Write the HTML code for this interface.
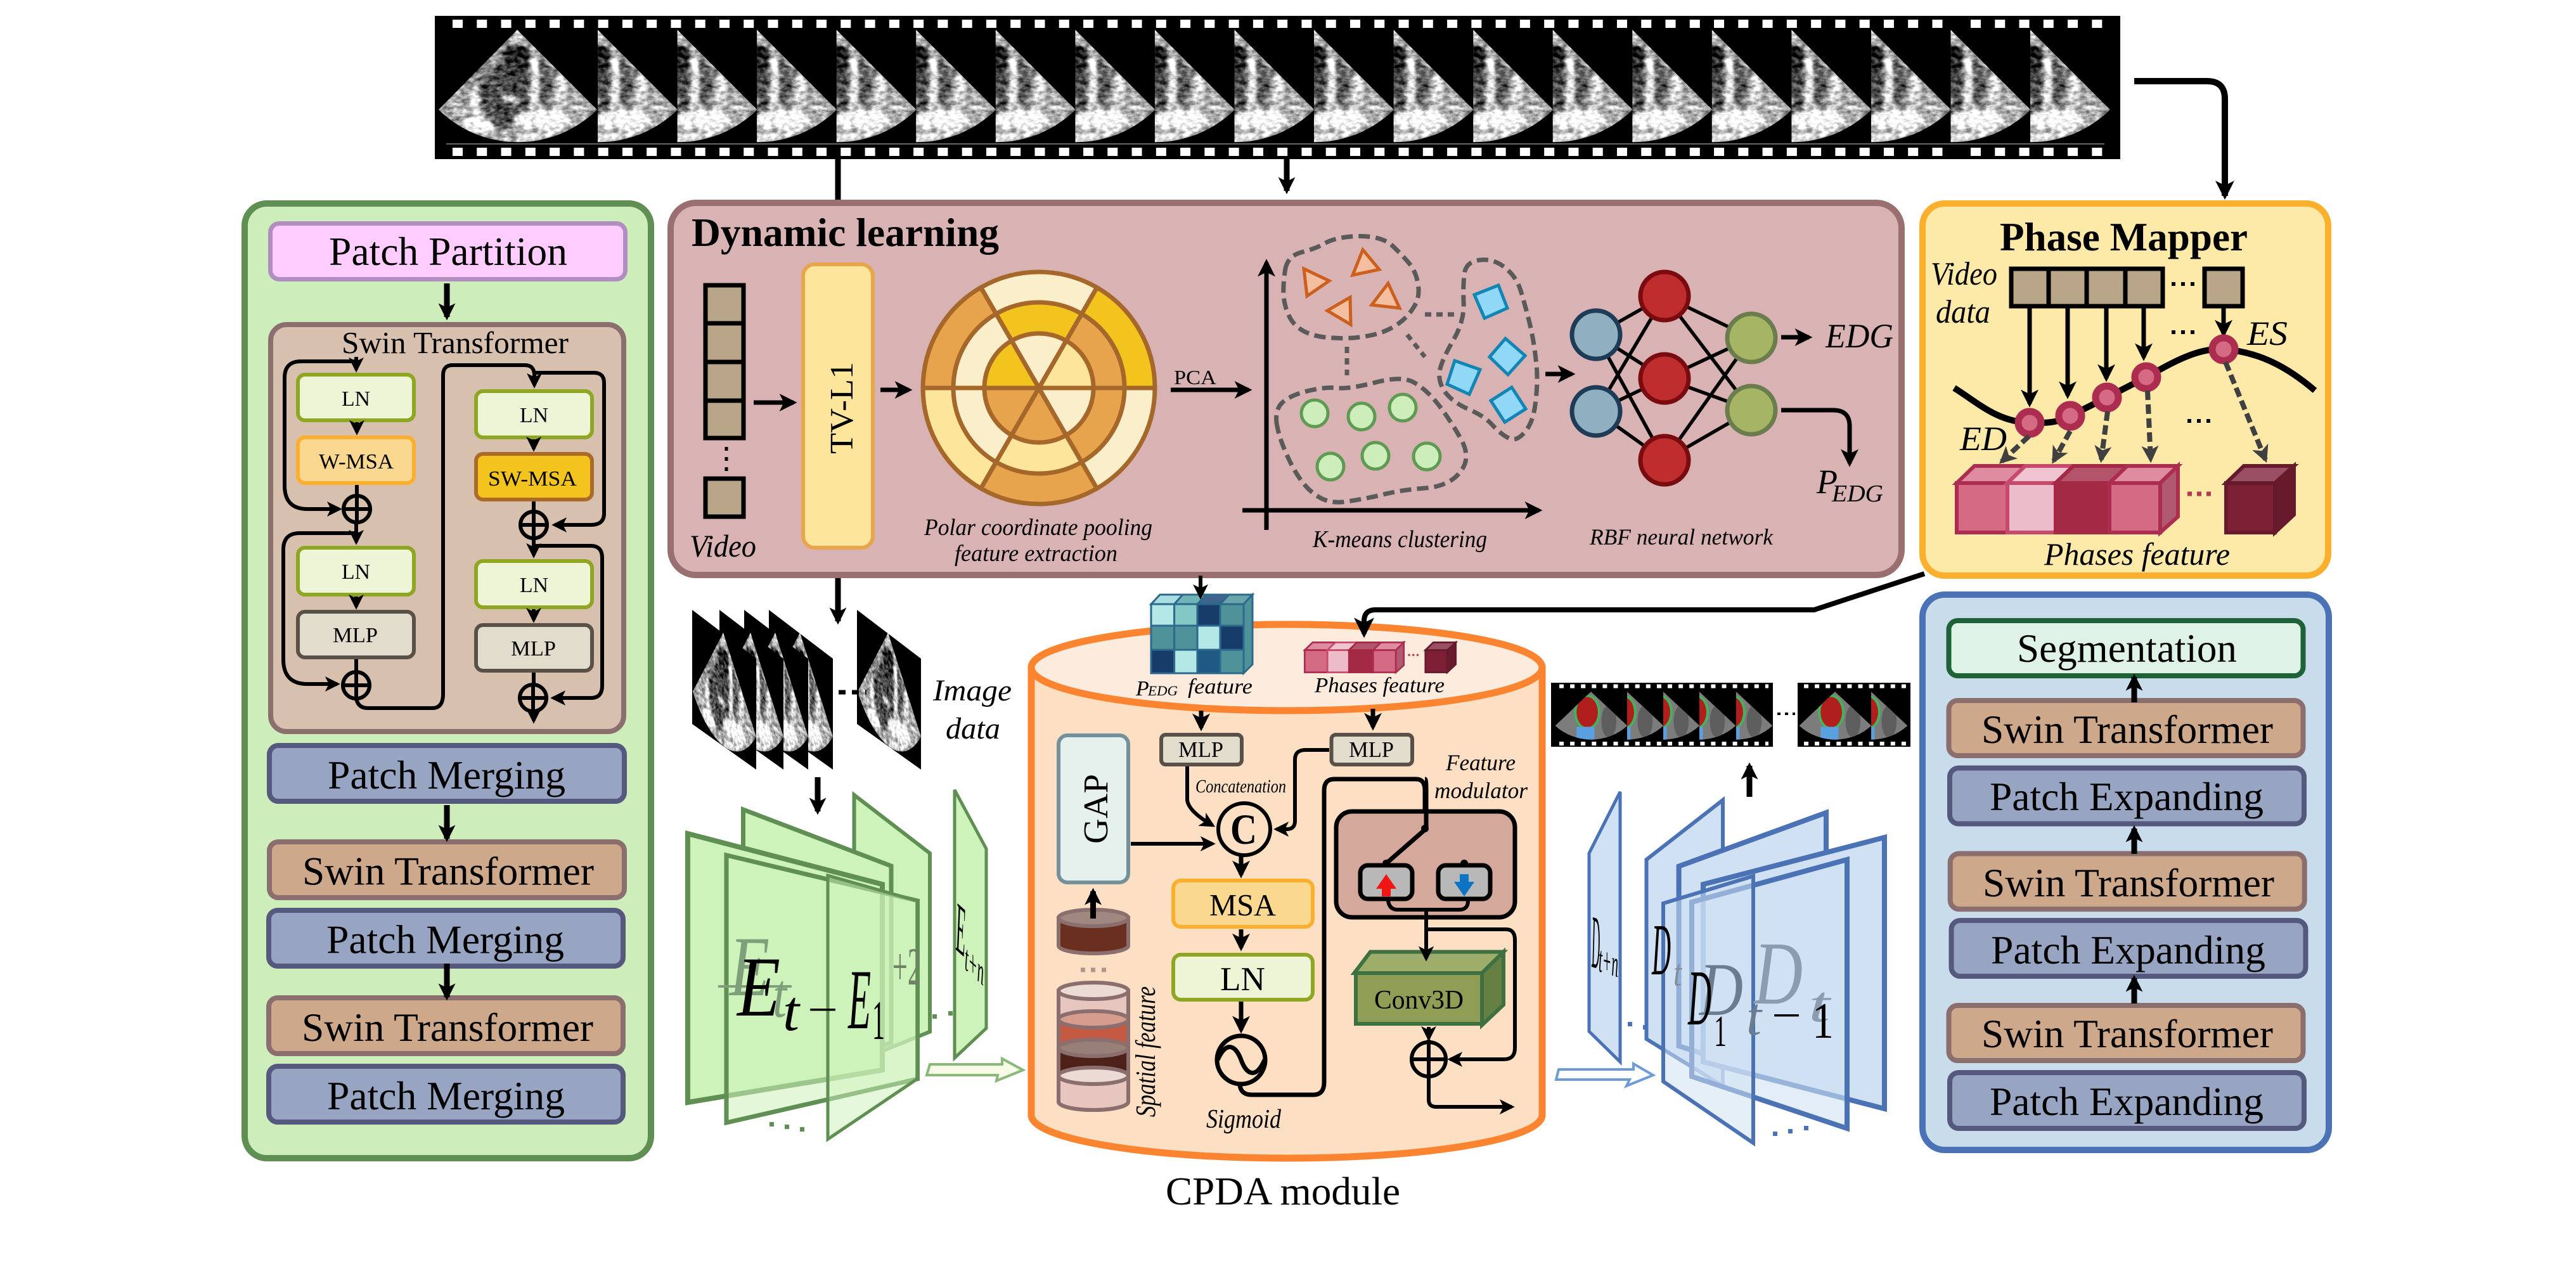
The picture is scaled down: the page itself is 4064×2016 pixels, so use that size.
<!DOCTYPE html>
<html lang="en"><head><meta charset="utf-8"><title>CPDA diagram</title>
<style>
html,body{margin:0;padding:0;background:#fff;width:4064px;height:2016px;overflow:hidden}
svg{display:block}
text{font-family:"Liberation Serif",serif;fill:#000}
.i{font-style:italic}.b{font-weight:bold}
.l{fill:none;stroke:#000;stroke-width:7}
.m{fill:none;stroke:#000;stroke-width:6}
.h{fill:none;stroke:#000;stroke-width:10}
.big{fill:none;stroke:#000;stroke-width:9}
.lb{fill:#eef4d6;stroke:#8ea622;stroke-width:6}
.ws{fill:#fbd88f;stroke:#fbb02d;stroke-width:6}
.mp{fill:#e2dccc;stroke:#595048;stroke-width:6}
.pm{fill:#97a4c2;stroke:#56597e;stroke-width:8}
.st{fill:#cda88a;stroke:#8b6e6e;stroke-width:8}
.cell{fill:#b9a588;stroke:#000;stroke-width:7}
.gp{fill:#cdf2ba;stroke:#5f8f53}
.bp{fill:#cfe1f2;stroke:#4a72b5}
.dash{fill:none;stroke:#5a5a5a;stroke-width:7;stroke-dasharray:18 9}
.tri{fill:#f4bfa0;stroke:#cc5f1e;stroke-width:5}
.dia{fill:#90d8f6;stroke:#1285b4;stroke-width:5}
.gc{fill:#cdeebb;stroke:#5f9a53;stroke-width:5}
.pi{fill:#d56a84;stroke:#ad2d50;stroke-width:11}
.da{fill:none;stroke:#404040;stroke-width:8;stroke-dasharray:15 7}
</style></head><body>
<svg xmlns="http://www.w3.org/2000/svg" width="4064" height="2016" viewBox="0 0 4064 2016">
<defs>
<marker id="a" viewBox="0 0 10 10" refX="8" refY="5" markerWidth="4" markerHeight="4" orient="auto"><path d="M0,0L10,5L0,10L2.5,5Z" fill="#000"/></marker>
<marker id="b" viewBox="0 0 10 10" refX="8" refY="5" markerWidth="3" markerHeight="3" orient="auto"><path d="M0,0L10,5L0,10L2.5,5Z" fill="#000"/></marker>
<marker id="c" viewBox="0 0 10 10" refX="8" refY="5" markerWidth="3.4" markerHeight="3.4" orient="auto"><path d="M0,0L10,5L0,10L2.5,5Z" fill="#404040"/></marker>
<clipPath id="fc"><path d="M0,0L126,126A178,178 0 0 1 -124,126Z"/></clipPath>
<clipPath id="cr"><rect x="0" y="-5" width="200" height="200"/></clipPath>
<filter id="nz" filterUnits="userSpaceOnUse" x="-140" y="-10" width="280" height="200" color-interpolation-filters="sRGB">
<feGaussianBlur in="SourceGraphic" stdDeviation="2.6" result="s"/>
<feTurbulence type="fractalNoise" baseFrequency=".09 .15" numOctaves="3" seed="4"/>
<feColorMatrix type="matrix" values="1 0 0 0 0 1 0 0 0 0 1 0 0 0 0 0 0 0 0 1" result="n"/>
<feComposite in="s" in2="n" operator="arithmetic" k1="0" k2="1" k3="1" k4="-.5"/>
</filter>
<g id="fan"><g clip-path="url(#fc)"><g filter="url(#nz)">
<rect x="-135" y="-5" width="270" height="195" fill="#a4a4a4"/>
<ellipse cx="-55" cy="85" rx="24" ry="40" fill="#8a8a8a"/>
<ellipse cx="-20" cy="105" rx="40" ry="50" fill="#4c4c4c"/>
<ellipse cx="-3" cy="75" rx="24" ry="34" fill="#484848"/>
<ellipse cx="-2" cy="40" rx="22" ry="17" fill="#1c1c1c"/>
<ellipse cx="2" cy="58" rx="17" ry="14" fill="#2c2c2c"/>
<ellipse cx="43" cy="86" rx="13" ry="34" fill="#575757"/>
<path d="M20,42L32,42L36,75L33,122L18,122L24,80Z" fill="#f2f2f2"/>
<ellipse cx="70" cy="100" rx="8" ry="34" fill="#e2e2e2"/>
<ellipse cx="-65" cy="122" rx="7" ry="36" fill="#f8f8f8"/>
<ellipse cx="-12" cy="108" rx="16" ry="6" fill="#ddd" transform="rotate(20 -12 108)"/>
<ellipse cx="38" cy="142" rx="44" ry="15" fill="#fff"/>
<ellipse cx="-62" cy="150" rx="24" ry="14" fill="#fff"/>
<path d="M0,165Q40,172 75,155" stroke="#fff" stroke-width="7" fill="none"/>
<path d="M-30,170Q0,176 30,172" stroke="#d8d8d8" stroke-width="5" fill="none"/>
<ellipse cx="3" cy="14" rx="6" ry="12" fill="#e0e0e0"/>
<ellipse cx="-95" cy="125" rx="14" ry="8" fill="#c4c4c4"/>
<ellipse cx="98" cy="125" rx="16" ry="10" fill="#b6b6b6"/>
</g></g></g>
<g id="sfan"><g clip-path="url(#fc)">
<path d="M0,0L126,126A178,178 0 0 1 -124,126Z" fill="#7c7c7c"/>
<ellipse cx="62" cy="110" rx="26" ry="60" fill="#5e5e5e"/>
<ellipse cx="-13" cy="76" rx="46" ry="65" fill="#43b35c"/>
<ellipse cx="-13" cy="76" rx="37" ry="56" fill="#b01e1e"/>
<rect x="-50" y="130" width="62" height="50" fill="#5a9fe0"/>
</g></g>
<g id="pc">
<rect x="3087" y="762" width="80" height="78" fill="#d56a84" stroke="#ad2d50" stroke-width="6"/>
<path d="M3087,762L3115,735H3195L3167,762Z" fill="#e08ca0" stroke="#ad2d50" stroke-width="6"/>
<rect x="3167" y="762" width="76" height="78" fill="#ecbccb" stroke="#c74a6c" stroke-width="6"/>
<path d="M3167,762L3195,735H3271L3243,762Z" fill="#f0c4d0" stroke="#c74a6c" stroke-width="6"/>
<rect x="3243" y="762" width="85" height="78" fill="#a32945" stroke="#a32945" stroke-width="6"/>
<path d="M3243,762L3271,735H3356L3328,762Z" fill="#b3546c" stroke="#a32945" stroke-width="6"/>
<rect x="3328" y="762" width="80" height="78" fill="#d56a84" stroke="#ad2d50" stroke-width="6"/>
<path d="M3328,762L3356,735H3436L3408,762Z" fill="#e08ca0" stroke="#ad2d50" stroke-width="6"/>
<path d="M3408,762L3436,735V815L3408,840Z" fill="#b05a72" stroke="#ad2d50" stroke-width="6"/>
<line x1="3451" x2="3489" y1="779" y2="779" stroke="#b23a55" stroke-width="7" stroke-dasharray="7 8"/>
<rect x="3512" y="762" width="77" height="78" fill="#7d1f35" stroke="#661a2c" stroke-width="6"/>
<path d="M3512,762L3540,735H3619L3589,762Z" fill="#9b4f64" stroke="#661a2c" stroke-width="6"/>
<path d="M3589,762L3619,735V812L3589,840Z" fill="#661a2c" stroke="#661a2c" stroke-width="6"/>
</g>
<g id="p"><circle r="21" fill="none" stroke="#000" stroke-width="6"/><path d="M-21,0H21M0,-24V24" stroke="#000" stroke-width="6"/></g>
<g id="im">
<path d="M1092,962L1193,1039V1214L1092,1142Z" fill="#000"/>
<use href="#fan" transform="matrix(.4,.284,.0127,1.017,1141,998)"/>
</g>
</defs>

<!-- film strip -->
<rect x="686" y="25" width="2659" height="226" fill="#000"/>
<path d="M714,37.5H3068M3109,37.5H3320M714,239.5H3068M3109,239.5H3320" stroke="#fff" stroke-width="13" stroke-dasharray="16 22.27" fill="none"/>
<line x1="704" x2="3320" y1="227" y2="227" stroke="#888" stroke-width="1.5"/>
<use href="#fan" transform="translate(816,47)"/>
<use href="#fan" transform="translate(943,47)" clip-path="url(#cr)"/>
<use href="#fan" transform="translate(1068.6,47)" clip-path="url(#cr)"/>
<use href="#fan" transform="translate(1194.1,47)" clip-path="url(#cr)"/>
<use href="#fan" transform="translate(1319.7,47)" clip-path="url(#cr)"/>
<use href="#fan" transform="translate(1445.2,47)" clip-path="url(#cr)"/>
<use href="#fan" transform="translate(1570.8,47)" clip-path="url(#cr)"/>
<use href="#fan" transform="translate(1696.4,47)" clip-path="url(#cr)"/>
<use href="#fan" transform="translate(1821.9,47)" clip-path="url(#cr)"/>
<use href="#fan" transform="translate(1947.5,47)" clip-path="url(#cr)"/>
<use href="#fan" transform="translate(2073,47)" clip-path="url(#cr)"/>
<use href="#fan" transform="translate(2198.6,47)" clip-path="url(#cr)"/>
<use href="#fan" transform="translate(2324.2,47)" clip-path="url(#cr)"/>
<use href="#fan" transform="translate(2449.7,47)" clip-path="url(#cr)"/>
<use href="#fan" transform="translate(2575.3,47)" clip-path="url(#cr)"/>
<use href="#fan" transform="translate(2700.8,47)" clip-path="url(#cr)"/>
<use href="#fan" transform="translate(2826.4,47)" clip-path="url(#cr)"/>
<use href="#fan" transform="translate(2952,47)" clip-path="url(#cr)"/>
<use href="#fan" transform="translate(3077.5,47)" clip-path="url(#cr)"/>
<use href="#fan" transform="translate(3203,47)" clip-path="url(#cr)"/>
<path class="h" d="M3367,128H3482Q3510,128 3510,156V309" marker-end="url(#b)"/>
<line class="big" x1="1322" y1="251" x2="1322" y2="320"/>
<line class="big" x1="2030" y1="251" x2="2030" y2="301" marker-end="url(#b)"/>

<!-- left panel -->
<rect x="386" y="321" width="641" height="1506" rx="35" fill="#cdeebb" stroke="#5f8f53" stroke-width="10"/>
<rect x="426.5" y="352.5" width="560" height="88" rx="14" fill="#ffccff" stroke="#b08fc0" stroke-width="7"/>
<text x="519" y="418" font-size="63" textLength="376" lengthAdjust="spacingAndGlyphs">Patch Partition</text>
<line class="big" x1="705" y1="447" x2="705" y2="500" marker-end="url(#b)"/>
<rect x="427" y="512" width="557" height="642" rx="25" fill="#d8c0ae" stroke="#8b6e6e" stroke-width="8"/>
<text x="539" y="557" font-size="49" textLength="358" lengthAdjust="spacingAndGlyphs">Swin Transformer</text>
<rect class="lb" x="470" y="591" width="183" height="72" rx="11"/>
<rect class="ws" x="470" y="690" width="183" height="72" rx="11"/>
<rect class="lb" x="470" y="864" width="183" height="74" rx="11"/>
<rect class="mp" x="470" y="965" width="183" height="72" rx="11"/>
<rect class="lb" x="751" y="617" width="183" height="73" rx="11"/>
<rect x="751" y="716" width="183" height="72" rx="11" fill="#f4c41e" stroke="#ab6a27" stroke-width="6"/>
<rect class="lb" x="751" y="885" width="183" height="73" rx="11"/>
<rect class="mp" x="751" y="986" width="183" height="72" rx="11"/>
<g font-size="34">
<text x="539" y="640" textLength="45" lengthAdjust="spacingAndGlyphs">LN</text>
<text x="503" y="739" textLength="118" lengthAdjust="spacingAndGlyphs">W-MSA</text>
<text x="539" y="913" textLength="45" lengthAdjust="spacingAndGlyphs">LN</text>
<text x="525" y="1013" textLength="71" lengthAdjust="spacingAndGlyphs">MLP</text>
<text x="820" y="666" textLength="45" lengthAdjust="spacingAndGlyphs">LN</text>
<text x="770" y="766" textLength="140" lengthAdjust="spacingAndGlyphs">SW-MSA</text>
<text x="820" y="934" textLength="45" lengthAdjust="spacingAndGlyphs">LN</text>
<text x="806" y="1034" textLength="71" lengthAdjust="spacingAndGlyphs">MLP</text>
</g>
<use href="#p" x="563" y="803"/><use href="#p" x="562" y="1081"/><use href="#p" x="842" y="828"/><use href="#p" x="841" y="1101"/>
<g class="m">
<path class="m" d="M562,570H475Q449,570 449,596V766Q449,803 485,803H535" marker-end="url(#a)"/>
<line class="m" x1="562" y1="563" x2="562" y2="583" marker-end="url(#a)"/>
<line class="m" x1="563" y1="666" x2="563" y2="682" marker-end="url(#a)"/>
<line class="m" x1="563" y1="765" x2="563" y2="782"/>
<line class="m" x1="562" y1="824" x2="562" y2="855" marker-end="url(#a)"/>
<path class="m" d="M562,841H473Q447,841 447,867V1040Q447,1079 485,1079H532" marker-end="url(#a)"/>
<line class="m" x1="562" y1="941" x2="562" y2="957" marker-end="url(#a)"/>
<line class="m" x1="562" y1="1040" x2="562" y2="1060"/>
<path class="m" d="M562,1102Q565,1117 580,1117H682Q699,1117 699,1095V592Q699,576 714,576H828Q843,576 843,592V608" marker-end="url(#a)"/>
<path class="m" d="M843,588H937Q953,588 953,604V810Q953,828 932,828H875" marker-end="url(#a)"/>
<line class="m" x1="842" y1="693" x2="842" y2="708" marker-end="url(#a)"/>
<line class="m" x1="842" y1="791" x2="842" y2="808"/>
<line class="m" x1="842" y1="850" x2="842" y2="876" marker-end="url(#a)"/>
<path class="m" d="M843,861H932Q950,861 950,880V1082Q950,1101 932,1101H873" marker-end="url(#a)"/>
<line class="m" x1="842" y1="961" x2="842" y2="978" marker-end="url(#a)"/>
<line class="m" x1="842" y1="1061" x2="842" y2="1080"/>
<line class="m" x1="842" y1="1122" x2="842" y2="1137" marker-end="url(#a)"/>
</g>
<rect class="pm" x="425" y="1176" width="560" height="88" rx="14"/>
<rect class="st" x="425" y="1328" width="560" height="88" rx="14"/>
<rect class="pm" x="424" y="1436" width="559" height="88" rx="14"/>
<rect class="st" x="424" y="1574" width="559" height="88" rx="14"/>
<rect class="pm" x="424" y="1682" width="559" height="88" rx="14"/>
<g font-size="63">
<text x="517" y="1244" textLength="375" lengthAdjust="spacingAndGlyphs">Patch Merging</text>
<text x="477" y="1395.5" textLength="460" lengthAdjust="spacingAndGlyphs">Swin Transformer</text>
<text x="515" y="1503.6" textLength="375" lengthAdjust="spacingAndGlyphs">Patch Merging</text>
<text x="476" y="1642" textLength="460" lengthAdjust="spacingAndGlyphs">Swin Transformer</text>
<text x="516" y="1750" textLength="375" lengthAdjust="spacingAndGlyphs">Patch Merging</text>
</g>
<line class="big" x1="705" y1="1270" x2="705" y2="1323" marker-end="url(#b)"/>
<line class="big" x1="705" y1="1520" x2="705" y2="1573" marker-end="url(#b)"/>

<!-- dynamic learning -->
<rect x="1058" y="320" width="1942" height="587" rx="40" fill="#d9b2b4" stroke="#996f70" stroke-width="10"/>
<text x="1091" y="388" font-size="64" class="b" textLength="485" lengthAdjust="spacingAndGlyphs">Dynamic learning</text>
<rect class="cell" x="1113" y="450" width="60" height="60"/>
<rect class="cell" x="1113" y="510" width="60" height="61"/>
<rect class="cell" x="1113" y="571" width="60" height="61"/>
<rect class="cell" x="1113" y="632" width="60" height="59"/>
<rect class="cell" x="1113" y="755" width="60" height="60"/>
<path d="M1146,705v6M1146,721v6M1146,737v6" stroke="#000" stroke-width="5"/>
<text x="1088" y="878" font-size="50" class="i" textLength="105" lengthAdjust="spacingAndGlyphs">Video</text>
<line class="l" x1="1189" y1="635" x2="1252" y2="635" marker-end="url(#a)"/>
<rect x="1267" y="417" width="110" height="447" rx="18" fill="#fde59b" stroke="#e8a64c" stroke-width="6"/>
<text transform="translate(1345,716) rotate(-90)" font-size="52" textLength="145" lengthAdjust="spacingAndGlyphs">TV-L1</text>
<line class="l" x1="1389" y1="615" x2="1434" y2="615" marker-end="url(#a)"/>
<!-- polar -->
<g stroke="#a5682a" stroke-width="7">
<path fill="#f4c41e" d="M1639,612L1822,612A183,183 0 0 0 1730.5,453.5Z"/>
<path fill="#fbeecb" d="M1639,612L1730.5,453.5A183,183 0 0 0 1547.5,453.5Z"/>
<path fill="#e8a44c" d="M1639,612L1547.5,453.5A183,183 0 0 0 1456,612Z"/>
<path fill="#fde59b" d="M1639,612L1456,612A183,183 0 0 0 1547.5,770.5Z"/>
<path fill="#e8a44c" d="M1639,612L1547.5,770.5A183,183 0 0 0 1730.5,770.5Z"/>
<path fill="#fbeecb" d="M1639,612L1730.5,770.5A183,183 0 0 0 1822,612Z"/>
<path fill="#e8a44c" d="M1639,612L1774,612A135,135 0 0 0 1706.5,495.1Z"/>
<path fill="#f4c41e" d="M1639,612L1706.5,495.1A135,135 0 0 0 1571.5,495.1Z"/>
<path fill="#fbeecb" d="M1639,612L1571.5,495.1A135,135 0 0 0 1504,612Z"/>
<path fill="#fbeecb" d="M1639,612L1504,612A135,135 0 0 0 1571.5,728.9Z"/>
<path fill="#fde59b" d="M1639,612L1571.5,728.9A135,135 0 0 0 1706.5,728.9Z"/>
<path fill="#e8a44c" d="M1639,612L1706.5,728.9A135,135 0 0 0 1774,612Z"/>
<path fill="#fde59b" d="M1639,612L1725,612A86,86 0 0 0 1682,537.5Z"/>
<path fill="#fbeecb" d="M1639,612L1682,537.5A86,86 0 0 0 1596,537.5Z"/>
<path fill="#f4c41e" d="M1639,612L1596,537.5A86,86 0 0 0 1553,612Z"/>
<path fill="#e8a44c" d="M1639,612L1553,612A86,86 0 0 0 1596,686.5Z"/>
<path fill="#e8a44c" d="M1639,612L1596,686.5A86,86 0 0 0 1682,686.5Z"/>
<path fill="#fbeecb" d="M1639,612L1682,686.5A86,86 0 0 0 1725,612Z"/>
</g>
<text x="1458" y="844" font-size="37" class="i" textLength="360" lengthAdjust="spacingAndGlyphs">Polar coordinate pooling</text>
<text x="1506" y="885" font-size="37" class="i" textLength="257" lengthAdjust="spacingAndGlyphs">feature extraction</text>
<text x="1852" y="606" font-size="32" textLength="67" lengthAdjust="spacingAndGlyphs">PCA</text>
<line class="l" x1="1847" y1="615" x2="1970" y2="615" marker-end="url(#a)"/>
<!-- kmeans -->
<line class="l" x1="1998" y1="836" x2="1998" y2="414" marker-end="url(#a)"/>
<line class="l" x1="1960" y1="805" x2="2428" y2="805" marker-end="url(#a)"/>
<path class="dash" d="M2027.5,426Q2031,404 2053,398Q2076,392 2088,385Q2101,377 2123,374Q2146,371 2165,374Q2185,377 2197,388Q2210,400 2222,414Q2234,428 2237,448Q2241,469 2230,485Q2220,502 2201,514Q2182,526 2157,530Q2132,535 2104,533Q2076,532 2058,523Q2041,514 2034,499Q2027,485 2025,467Q2024,449 2027.5,426Z"/>
<path class="dash" d="M2311,428Q2315,412 2336,410Q2357,408 2374,422Q2392,436 2399,458Q2406,481 2413,509Q2420,538 2423,567Q2427,596 2423,630Q2420,665 2406,681Q2392,698 2380,691Q2368,685 2355,671Q2343,657 2318,646Q2294,636 2281,620Q2269,604 2271,587Q2273,571 2292,538Q2311,506 2309,475Q2308,445 2311,428Z"/>
<path class="dash" d="M2015,673Q2010,649 2022,636Q2034,624 2062,617Q2090,610 2109,612Q2129,614 2171,603Q2213,592 2232,604Q2252,616 2269,638Q2287,661 2304,691Q2322,722 2304,744Q2287,767 2248,770Q2210,773 2182,780Q2154,787 2125,791Q2097,796 2076,781Q2055,767 2037,732Q2020,698 2015,673Z"/>
<path d="M2125,547V592M2248,496H2294M2220,528L2248,563" stroke="#5a5a5a" stroke-width="7" stroke-dasharray="10 8" fill="none"/>
<polygon class="tri" points="2057,424 2097,443 2062,467"/>
<polygon class="tri" points="2150,394 2176,425 2134,434"/>
<polygon class="tri" points="2190,447 2208,486 2164,481"/>
<polygon class="tri" points="2130,469 2131,512 2094,490"/>
<polygon class="dia" points="2364,450 2378,486 2342,502 2326,465"/>
<polygon class="dia" points="2375,534 2406,561 2379,591 2350,563"/>
<polygon class="dia" points="2295,569 2335,583 2318,622 2283,606"/>
<polygon class="dia" points="2385,611 2407,645 2374,666 2352,632"/>
<circle class="gc" cx="2074" cy="652" r="21"/><circle class="gc" cx="2148" cy="657" r="21"/><circle class="gc" cx="2213" cy="643" r="21"/>
<circle class="gc" cx="2099" cy="736" r="21"/><circle class="gc" cx="2170" cy="719" r="21"/><circle class="gc" cx="2251" cy="720" r="21"/>
<text x="2071" y="863" font-size="38" class="i" textLength="275" lengthAdjust="spacingAndGlyphs">K-means clustering</text>
<text x="2508" y="859" font-size="36" class="i" textLength="289" lengthAdjust="spacingAndGlyphs">RBF neural network</text>
<line class="l" x1="2438" y1="590" x2="2480" y2="590" marker-end="url(#a)"/>
<!-- RBF -->
<path d="M2518,528L2626,467M2518,528L2626,597M2518,528L2626,726M2518,649L2626,467M2518,649L2626,597M2518,649L2626,726M2626,467L2763,533M2626,467L2763,647M2626,597L2763,533M2626,597L2763,647M2626,726L2763,533M2626,726L2763,647" stroke="#000" stroke-width="5.5" fill="none"/>
<g stroke-width="7">
<circle cx="2518" cy="528" r="38" fill="#8fb0c0" stroke="#1e3c58"/>
<circle cx="2518" cy="649" r="38" fill="#8fb0c0" stroke="#1e3c58"/>
<circle cx="2626" cy="467" r="38" fill="#bf2d2f" stroke="#7a0c10"/>
<circle cx="2626" cy="597" r="38" fill="#bf2d2f" stroke="#7a0c10"/>
<circle cx="2626" cy="726" r="38" fill="#bf2d2f" stroke="#7a0c10"/>
<circle cx="2763" cy="533" r="38" fill="#a6b563" stroke="#6b7d4d"/>
<circle cx="2763" cy="647" r="38" fill="#a6b563" stroke="#6b7d4d"/>
</g>
<line class="l" x1="2810" y1="532" x2="2854" y2="532" marker-end="url(#a)"/>
<text x="2880" y="548" font-size="54" class="i" textLength="107" lengthAdjust="spacingAndGlyphs">EDG</text>
<path class="l" d="M2810,647H2892Q2918,647 2918,672V731" marker-end="url(#a)"/>
<text x="2866" y="778" font-size="54" class="i">P</text>
<text x="2890" y="791" font-size="38" class="i" textLength="81" lengthAdjust="spacingAndGlyphs">EDG</text>

<!-- phase mapper -->
<rect x="3033" y="321" width="640" height="587" rx="35" fill="#feeaa8" stroke="#fbb02d" stroke-width="10"/>
<text x="3155" y="395" font-size="63" class="b" textLength="391" lengthAdjust="spacingAndGlyphs">Phase Mapper</text>
<text x="3046" y="449" font-size="52" class="i" textLength="105" lengthAdjust="spacingAndGlyphs">Video</text>
<text x="3054" y="509" font-size="52" class="i" textLength="86" lengthAdjust="spacingAndGlyphs">data</text>
<rect class="cell" x="3173" y="424" width="59" height="59"/><rect class="cell" x="3232" y="424" width="60" height="59"/><rect class="cell" x="3292" y="424" width="61" height="59"/><rect class="cell" x="3353" y="424" width="59" height="59"/><rect class="cell" x="3478" y="424" width="60" height="59"/>
<path d="M3426,448H3462M3426,524H3462M3451,664H3489" stroke="#000" stroke-width="6" stroke-dasharray="6 9" fill="none"/>
<path d="M3083,612C3120,635 3150,665 3202,667C3235,668 3250,665 3266,656L3324,627L3386,595C3430,570 3470,548 3508,551C3565,555 3610,580 3652,616" fill="none" stroke="#000" stroke-width="10"/>
<g>
<line class="l" x1="3202" y1="483" x2="3202" y2="637" marker-end="url(#a)"/>
<line class="l" x1="3262" y1="483" x2="3262" y2="624" marker-end="url(#a)"/>
<line class="l" x1="3323" y1="483" x2="3323" y2="597" marker-end="url(#a)"/>
<line class="l" x1="3382" y1="483" x2="3382" y2="564" marker-end="url(#a)"/>
<line class="l" x1="3508" y1="483" x2="3508" y2="527" marker-end="url(#a)"/>
</g>
<circle class="pi" cx="3202" cy="667" r="18"/><circle class="pi" cx="3266" cy="656" r="18"/><circle class="pi" cx="3324" cy="627" r="18"/><circle class="pi" cx="3386" cy="595" r="18"/><circle class="pi" cx="3508" cy="551" r="18"/>
<use href="#pc"/>
<path class="da" d="M3201,688L3158,728" marker-end="url(#c)"/>
<path class="da" d="M3266,680L3240,727" marker-end="url(#c)"/>
<path class="da" d="M3325,649L3315,725" marker-end="url(#c)"/>
<path class="da" d="M3388,616L3393,725" marker-end="url(#c)"/>
<path class="da" d="M3511,571L3574,725" marker-end="url(#c)"/>
<text x="3225" y="891" font-size="50" class="i" textLength="293" lengthAdjust="spacingAndGlyphs">Phases feature</text>
<text x="3092" y="710" font-size="54" class="i" textLength="74" lengthAdjust="spacingAndGlyphs">ED</text>
<text x="3545" y="544" font-size="54" class="i" textLength="64" lengthAdjust="spacingAndGlyphs">ES</text>

<!-- image data stack -->
<use href="#im" x="121"/><use href="#im" x="82"/><use href="#im" x="43"/><use href="#im"/><use href="#im" x="260"/>
<line x1="1323" x2="1367" y1="1092" y2="1092" stroke="#000" stroke-width="7" stroke-dasharray="11 10"/>
<text x="1472" y="1105" font-size="48" class="i" textLength="124" lengthAdjust="spacingAndGlyphs">Image</text>
<text x="1492" y="1165" font-size="48" class="i" textLength="86" lengthAdjust="spacingAndGlyphs">data</text>
<line class="big" x1="1322" y1="912" x2="1322" y2="980" marker-end="url(#b)"/>
<line class="big" x1="1290" y1="1226" x2="1290" y2="1280" marker-end="url(#b)"/>

<!-- green planes -->
<polygon class="gp" stroke-width="5" points="1506,1246 1556,1339 1556,1622 1506,1669"/>
<polygon class="gp" stroke-width="6" points="1347.5,1254 1467,1346 1467,1627.5 1347.5,1676"/>
<polygon class="gp" stroke-width="7" points="1172.5,1277 1406,1366 1406,1645 1172.5,1722"/>
<polygon class="gp" stroke-width="8" points="1085,1315 1392,1395 1392,1688 1085,1739"/>
<polygon class="gp" stroke-width="7" fill-opacity=".55" points="1146,1349 1447.5,1421 1447.5,1702 1146,1771"/>
<polygon class="gp" stroke-width="5" fill-opacity=".5" points="1306,1381 1447,1421 1447,1702 1306,1797"/>
<line x1="1133" x2="1249" y1="1556" y2="1556" stroke="#7f9f7a" stroke-width="4"/>
<g class="i">
<text x="1151" y="1570" font-size="135" style="fill:#7f9f7a" textLength="63" lengthAdjust="spacingAndGlyphs">E</text>
<text x="1219" y="1604" font-size="100" style="fill:#7f9f7a" textLength="22" lengthAdjust="spacingAndGlyphs">t</text>
</g>
<text x="1408" y="1553" font-size="85" style="fill:#6f8267" textLength="45" lengthAdjust="spacingAndGlyphs">+2</text>
<g class="i">
<text x="1163" y="1602" font-size="135" textLength="68" lengthAdjust="spacingAndGlyphs">E</text>
<text x="1235" y="1625" font-size="90" textLength="26" lengthAdjust="spacingAndGlyphs">t</text>
<text x="1338" y="1622" font-size="135" textLength="36" lengthAdjust="spacingAndGlyphs">E</text>
</g>
<text x="1274" y="1616" font-size="70" textLength="48" lengthAdjust="spacingAndGlyphs">−</text>
<text x="1376" y="1639" font-size="88" textLength="20" lengthAdjust="spacingAndGlyphs">1</text>
<g transform="translate(1508,1498) matrix(1,.9,0,1,0,0)">
<text class="i" font-size="115" textLength="15" lengthAdjust="spacingAndGlyphs">E</text>
<text class="i" x="14" y="18" font-size="60" textLength="30" lengthAdjust="spacingAndGlyphs">t+n</text>
</g>
<rect x="1214" y="1770" width="7" height="7" fill="#5f8f53"/><rect x="1238" y="1774" width="7" height="7" fill="#5f8f53"/><rect x="1262" y="1778" width="7" height="7" fill="#5f8f53"/>
<rect x="1471" y="1600" width="7" height="7" fill="#5f8f53"/><rect x="1496" y="1595" width="7" height="7" fill="#5f8f53"/>
<polygon points="1467,1679 1581,1679 1581,1670 1614,1688 1572,1705 1574,1696 1462,1696" fill="#f7fbe5" stroke="#89b87a" stroke-width="4"/>

<!-- CPDA cylinder -->
<path d="M1627,1053A403,68 0 0 1 2433,1053V1759A403,68 0 0 1 1627,1759Z" fill="#fde0c4" stroke="#fb8431" stroke-width="11"/>
<ellipse cx="2030" cy="1053" rx="403" ry="68" fill="#fdecde" stroke="#fb8431" stroke-width="11"/>
<text x="1839" y="1900" font-size="62" textLength="370" lengthAdjust="spacingAndGlyphs">CPDA module</text>
<!-- PEDG cube -->
<g stroke="#2b6a8c" stroke-width="3">
<path fill="#a9dfe0" d="M1816,953L1830,938H1866L1852.6,953Z"/><path fill="#72b3b7" d="M1852.6,953L1866,938H1903L1889,953Z"/><path fill="#3f638d" d="M1889,953L1903,938H1939L1925,953Z"/><path fill="#6aa3a8" d="M1925,953L1939,938H1976L1962,953Z"/>
<path fill="#4f929a" d="M1962,953L1976,938V1048L1962,1062Z"/>
<rect x="1816" y="953" width="36.6" height="34" fill="#b3e8e6"/><rect x="1852.6" y="953" width="36.4" height="34" fill="#83c8c4"/><rect x="1889" y="953" width="36" height="34" fill="#183c6a"/><rect x="1925" y="953" width="37" height="34" fill="#4f929a"/>
<rect x="1816" y="987" width="36.6" height="38" fill="#4f929a"/><rect x="1852.6" y="987" width="36.4" height="38" fill="#4f929a"/><rect x="1889" y="987" width="36" height="38" fill="#b3e8e6"/><rect x="1925" y="987" width="37" height="38" fill="#183c6a"/>
<rect x="1816" y="1025" width="36.6" height="37" fill="#183c6a"/><rect x="1852.6" y="1025" width="36.4" height="37" fill="#b3e8e6"/><rect x="1889" y="1025" width="36" height="37" fill="#1f5a85"/><rect x="1925" y="1025" width="37" height="37" fill="#4f929a"/>
</g>
<use href="#pc" transform="translate(675.4,682.6) scale(.448,.45)"/>
<line class="m" x1="1894" y1="908" x2="1894" y2="941" marker-end="url(#a)"/>
<path class="m" style="stroke-width:8" d="M3036,905L2862,962H2170Q2152,962 2152,980V1000" marker-end="url(#a)"/>
<text x="1792" y="1097" font-size="34" class="i">P</text>
<text x="1811" y="1097" font-size="22" class="i" textLength="47" lengthAdjust="spacingAndGlyphs">EDG</text>
<text x="1874" y="1094" font-size="34" class="i" textLength="102" lengthAdjust="spacingAndGlyphs">feature</text>
<text x="2074" y="1092" font-size="34" class="i" textLength="205" lengthAdjust="spacingAndGlyphs">Phases feature</text>
<line class="l" x1="1895" y1="1121" x2="1895" y2="1148" marker-end="url(#a)"/>
<line class="l" x1="2166" y1="1118" x2="2166" y2="1147" marker-end="url(#a)"/>
<rect class="mp" x="1832" y="1159" width="127" height="47" rx="7"/>
<rect class="mp" x="2100.5" y="1159" width="127.5" height="47" rx="7"/>
<text x="1859" y="1194" font-size="35" textLength="71" lengthAdjust="spacingAndGlyphs">MLP</text>
<text x="2128" y="1194" font-size="35" textLength="71" lengthAdjust="spacingAndGlyphs">MLP</text>
<rect x="1670" y="1160" width="110" height="232" rx="14" fill="#e6f0ec" stroke="#73909c" stroke-width="6"/>
<text transform="translate(1747,1331) rotate(-90)" font-size="55" textLength="110" lengthAdjust="spacingAndGlyphs">GAP</text>
<line class="m" x1="1784" y1="1331" x2="1913" y2="1331" marker-end="url(#a)"/>
<path class="m" d="M1873,1209V1262Q1875,1280 1913,1302" marker-end="url(#a)"/>
<path class="m" d="M2097,1183H2060Q2043,1183 2043,1198V1295Q2043,1308 2030,1308H2014" marker-end="url(#a)"/>
<text x="1886" y="1250" font-size="30" class="i" textLength="143" lengthAdjust="spacingAndGlyphs">Concatenation</text>
<circle cx="1963" cy="1308" r="41" fill="none" stroke="#000" stroke-width="6"/>
<text x="1941" y="1331" font-size="68" class="b" textLength="42" lengthAdjust="spacingAndGlyphs">C</text>
<line class="l" x1="1958" y1="1350" x2="1958" y2="1380" marker-end="url(#a)"/>
<rect x="1851" y="1389" width="220" height="73" rx="12" fill="#fbd88f" stroke="#fbb02d" stroke-width="6"/>
<text x="1908" y="1444" font-size="49" textLength="105" lengthAdjust="spacingAndGlyphs">MSA</text>
<line class="l" x1="1958" y1="1466" x2="1958" y2="1495" marker-end="url(#a)"/>
<rect class="lb" x="1851" y="1506" width="220" height="71" rx="12"/>
<text x="1925" y="1562" font-size="53" textLength="71" lengthAdjust="spacingAndGlyphs">LN</text>
<line class="l" x1="1958" y1="1580" x2="1958" y2="1625" marker-end="url(#a)"/>
<circle class="l" cx="1958" cy="1672" r="38"/>
<path class="l" d="M1921,1672C1935,1640 1950,1650 1958,1672C1966,1694 1981,1704 1995,1672"/>
<path class="l" d="M1956,1712Q1958,1727 1975,1727H2072Q2089,1727 2089,1707V1247Q2089,1229 2105,1229H2234Q2248,1229 2248,1247V1307L2187,1362"/>
<text x="1903" y="1779" font-size="42" class="i" textLength="118" lengthAdjust="spacingAndGlyphs">Sigmoid</text>
<text transform="translate(1822,1762) rotate(-90)" font-size="44" class="i" textLength="206" lengthAdjust="spacingAndGlyphs">Spatial feature</text>
<text x="2281" y="1215" font-size="36" class="i" textLength="110" lengthAdjust="spacingAndGlyphs">Feature</text>
<text x="2263" y="1259" font-size="36" class="i" textLength="147" lengthAdjust="spacingAndGlyphs">modulator</text>
<rect x="2108" y="1280" width="282" height="167" rx="25" fill="#d4a89a" stroke="#000" stroke-width="7"/>
<path class="l" d="M2248,1229Q2250,1229 2250,1247V1307L2187,1362"/>
<rect x="2146" y="1365" width="82" height="53" rx="12" fill="#b8b8b8" stroke="#000" stroke-width="7"/>
<rect x="2269" y="1365" width="82" height="53" rx="12" fill="#b8b8b8" stroke="#000" stroke-width="7"/>
<circle cx="2248" cy="1307" r="6"/><circle cx="2187" cy="1362" r="6"/><circle cx="2310" cy="1362" r="6"/>
<polygon points="2187,1379 2203,1402 2194,1402 2194,1414 2180,1414 2180,1402 2171,1402" fill="#f01616"/>
<polygon points="2310,1414 2326,1391 2317,1391 2317,1379 2303,1379 2303,1391 2294,1391" fill="#0c74c4"/>
<path class="m" d="M2190,1421Q2192,1435 2205,1435H2302Q2316,1435 2316,1421M2250,1435V1512" marker-end="url(#a)"/>
<path class="m" d="M2250,1466H2376Q2390,1466 2390,1483V1653Q2390,1671 2373,1671H2288" marker-end="url(#a)"/>
<polygon points="2136.5,1535 2162,1501.5 2372,1501.5 2338,1535" fill="#9fad6b" stroke="#3f7042" stroke-width="6"/>
<polygon points="2338,1535 2372,1501.5 2372,1585 2338,1617" fill="#667f42" stroke="#3f7042" stroke-width="6"/>
<rect x="2139" y="1535" width="199" height="80" fill="#8f9e54" stroke="#3f7042" stroke-width="6"/>
<path class="m" d="M2250,1466V1512" marker-end="url(#a)"/>
<text x="2168" y="1591" font-size="42" textLength="141" lengthAdjust="spacingAndGlyphs">Conv3D</text>
<line class="m" x1="2254" y1="1620" x2="2254" y2="1638" marker-end="url(#a)"/>
<circle class="m" cx="2254" cy="1671" r="27"/><path class="m" d="M2227,1671H2281M2254,1640V1700"/>
<path class="m" d="M2254,1698V1735Q2254,1746 2266,1746H2385" marker-end="url(#a)"/>
<!-- cylinders -->
<g stroke="#8b6e6e" stroke-width="6">
<path d="M1670,1448V1492A55,12 0 0 0 1780,1492V1448Z" fill="#6b2f20"/>
<ellipse cx="1725" cy="1448" rx="55" ry="13" fill="#a08880"/>
<path d="M1670,1563V1738A55,13 0 0 0 1780,1738V1563Z" fill="#e8c6c0"/>
<rect x="1670" y="1608" width="110" height="45" fill="#c55a42" stroke="none"/>
<rect x="1670" y="1653" width="110" height="44" fill="#4d2018" stroke="none"/>
<path d="M1670,1563V1738A55,13 0 0 0 1780,1738V1563" fill="none"/>
<ellipse cx="1725" cy="1697" rx="55" ry="13" fill="#ecdad4"/>
<ellipse cx="1725" cy="1653" rx="55" ry="13" fill="#968078"/>
<ellipse cx="1725" cy="1608" rx="55" ry="13" fill="#d69c8c"/>
<ellipse cx="1725" cy="1563" rx="55" ry="13" fill="#ecdad4"/>
</g>
<line class="big" x1="1724.5" y1="1449" x2="1724.5" y2="1406" marker-end="url(#b)"/>
<path d="M1705,1530h7M1721,1530h7M1738,1530h7" stroke="#b0978c" stroke-width="7"/>

<!-- blue planes -->
<polygon class="bp" stroke-width="5" points="2556,1249 2556,1675 2507,1627 2507,1346"/>
<polygon class="bp" stroke-width="6" points="2597.5,1356 2718,1262 2718,1713 2597.5,1639"/>
<polygon class="bp" stroke-width="8" points="2648.6,1366.5 2881,1282 2881,1724 2648.6,1650"/>
<polygon class="bp" stroke-width="8" points="2687,1395 2973,1321 2973,1749 2687,1675"/>
<polygon class="bp" stroke-width="8" fill-opacity=".6" points="2669,1423 2914,1356 2914,1780 2669,1698"/>
<polygon class="bp" stroke-width="6" fill-opacity=".55" points="2624,1425 2766,1382 2766,1803 2624,1706"/>
<g class="i">
<text x="2767" y="1583" font-size="142" style="fill:#8b9cb0" textLength="77" lengthAdjust="spacingAndGlyphs">D</text>
<text x="2853" y="1611" font-size="80" style="fill:#8b9cb0" textLength="34" lengthAdjust="spacingAndGlyphs">t</text>
<text x="2681" y="1601" font-size="120" style="fill:#6c7c90" textLength="69" lengthAdjust="spacingAndGlyphs">D</text>
<text x="2755" y="1632" font-size="85" style="fill:#6c7c90" textLength="24" lengthAdjust="spacingAndGlyphs">t</text>
<text x="2606" y="1537" font-size="115" textLength="30" lengthAdjust="spacingAndGlyphs">D</text>
<text x="2640" y="1555" font-size="60" style="fill:#808e9e" textLength="13" lengthAdjust="spacingAndGlyphs">t</text>
<text x="2663" y="1616" font-size="125" textLength="37" lengthAdjust="spacingAndGlyphs">D</text>
</g>
<text x="2795" y="1625" font-size="70" textLength="47" lengthAdjust="spacingAndGlyphs">−</text>
<text x="2859" y="1637" font-size="80" textLength="34" lengthAdjust="spacingAndGlyphs">1</text>
<text x="2704" y="1650" font-size="70" textLength="20" lengthAdjust="spacingAndGlyphs">1</text>
<g transform="translate(2511,1525) matrix(1,.3,0,1,0,0)">
<text class="i" font-size="120" textLength="13" lengthAdjust="spacingAndGlyphs">D</text>
<text class="i" x="11" y="4" font-size="60" textLength="31" lengthAdjust="spacingAndGlyphs">t+n</text>
</g>
<g fill="#4a72b5"><rect x="2797" y="1785" width="7" height="7"/><rect x="2821" y="1781" width="7" height="7"/><rect x="2846" y="1776" width="7" height="7"/><rect x="2568" y="1612" width="7" height="7"/><rect x="2592" y="1617" width="7" height="7"/></g>
<polygon points="2459,1687 2577,1687 2577,1678 2608,1696 2566,1713 2571,1703 2455,1703" fill="#fff" stroke="#6f9ad8" stroke-width="4"/>

<!-- output film -->
<rect x="2447" y="1077" width="350" height="101" fill="#000"/>
<rect x="2836" y="1077" width="178" height="101" fill="#000"/>
<path d="M2460,1082.5H2790M2460,1173H2790" stroke="#fff" stroke-width="6" stroke-dasharray="7 10.1" fill="none"/>
<path d="M2846,1082.5H3008M2846,1173H3008" stroke="#fff" stroke-width="6" stroke-dasharray="7 10.1" fill="none"/>
<use href="#sfan" transform="translate(2510,1091) scale(.456,.427)"/>
<use href="#sfan" transform="translate(2567,1091) scale(.456,.427)" clip-path="url(#cr)"/>
<use href="#sfan" transform="translate(2624,1091) scale(.456,.427)" clip-path="url(#cr)"/>
<use href="#sfan" transform="translate(2681,1091) scale(.456,.427)" clip-path="url(#cr)"/>
<use href="#sfan" transform="translate(2739,1091) scale(.456,.427)" clip-path="url(#cr)"/>
<use href="#sfan" transform="translate(2895,1091) scale(.456,.427)"/>
<use href="#sfan" transform="translate(2952,1091) scale(.456,.427)" clip-path="url(#cr)"/>
<path d="M2804,1126H2832" stroke="#000" stroke-width="4" stroke-dasharray="5 7"/>
<line class="big" x1="2760" y1="1257" x2="2760" y2="1208" marker-end="url(#b)"/>

<!-- segmentation panel -->
<rect x="3033" y="938" width="641" height="876" rx="35" fill="#c9dceb" stroke="#4a72b5" stroke-width="10"/>
<rect x="3074.5" y="979" width="559" height="87" rx="14" fill="#def3e5" stroke="#1e6238" stroke-width="8"/>
<rect class="st" x="3074.5" y="1105" width="559" height="87" rx="14"/>
<rect class="pm" x="3076" y="1211.5" width="559" height="88" rx="14"/>
<rect class="st" x="3076.7" y="1346.5" width="559" height="87.6" rx="14"/>
<rect class="pm" x="3078.5" y="1452" width="559" height="88" rx="14"/>
<rect class="st" x="3074.5" y="1586" width="559" height="87" rx="14"/>
<rect class="pm" x="3076" y="1692" width="559" height="88" rx="14"/>
<g font-size="63">
<text x="3182" y="1044" textLength="347" lengthAdjust="spacingAndGlyphs">Segmentation</text>
<text x="3126" y="1172" textLength="460" lengthAdjust="spacingAndGlyphs">Swin Transformer</text>
<text x="3139" y="1278" textLength="432" lengthAdjust="spacingAndGlyphs">Patch Expanding</text>
<text x="3128" y="1414" textLength="460" lengthAdjust="spacingAndGlyphs">Swin Transformer</text>
<text x="3141" y="1520" textLength="433" lengthAdjust="spacingAndGlyphs">Patch Expanding</text>
<text x="3126" y="1652" textLength="460" lengthAdjust="spacingAndGlyphs">Swin Transformer</text>
<text x="3139" y="1759" textLength="432" lengthAdjust="spacingAndGlyphs">Patch Expanding</text>
</g>
<line class="big" x1="3367" y1="1108" x2="3367" y2="1068" marker-end="url(#b)"/>
<line class="big" x1="3367" y1="1347" x2="3367" y2="1307" marker-end="url(#b)"/>
<line class="big" x1="3367" y1="1583" x2="3367" y2="1543" marker-end="url(#b)"/>
</svg>
</body></html>
